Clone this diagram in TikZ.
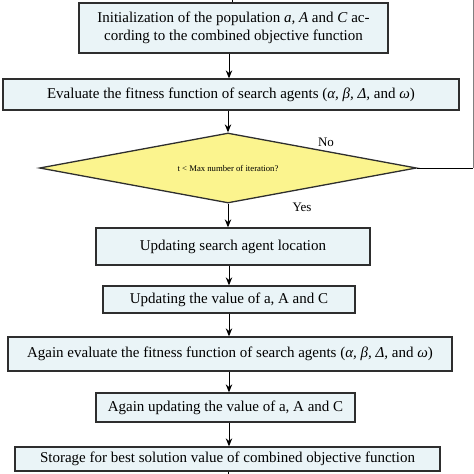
\documentclass[tikz,border=0pt]{standalone}
\usepackage{fontspec}
\setmainfont{Liberation Serif}
\usetikzlibrary{shapes.geometric,arrows.meta}
\definecolor{boxfill}{HTML}{EAF4F7}
\definecolor{decfill}{HTML}{FBF48E}
\definecolor{edge}{HTML}{2E2E2E}

\begin{document}
\begin{tikzpicture}[x=1pt,y=-1pt,
  stepbox/.style={draw=edge,line width=1.3pt,fill=boxfill,inner sep=0pt,align=center,font=\fontsize{15}{18}\selectfont},
  decbox/.style={draw=edge,line width=1.3pt,fill=decfill,diamond,aspect=5.4,inner sep=0pt,font=\fontsize{8.7}{10}\selectfont},
  arr/.style={-{Stealth[length=8pt,width=6.5pt]},line width=1pt,black},
  flow/.style={line width=1pt,black}]
\useasboundingbox (0,0) rectangle (474,474);
\coordinate (axis) at (229,0);
% boxes
\node[stepbox,minimum width=309pt,minimum height=50pt] (init) at (233.5,28) {Initialization of the population \textit{a, A} and \textit{C} ac-\\cording to the combined objective function};
\node[stepbox,minimum width=456pt,minimum height=31pt] (eval) at (231,94.5) {Evaluate the fitness function of search agents (\textit{α, β, Δ,} and \textit{ω})};
\node[decbox,minimum width=377pt,minimum height=70pt] (dec) at (228,168) {t < Max number of iteration?\hspace{30pt}};
\node[stepbox,minimum width=274pt,minimum height=37pt] (upd) at (233,246.5) {Updating search agent location};
\node[stepbox,minimum width=252pt,minimum height=27pt] (val) at (229,299.5) {Updating the value of a, A and C};
\node[stepbox,minimum width=444pt,minimum height=34pt] (again) at (230,354) {Again evaluate the fitness function of search agents (\textit{α, β, Δ,} and \textit{ω})};
\node[stepbox,minimum width=259pt,minimum height=29pt] (againval) at (225.5,407.5) {Again updating the value of a, A and C};
\node[stepbox,minimum width=425pt,minimum height=24pt] (store) at (227.5,459) {Storage for best solution value of combined objective function};
% connectors
\coordinate (top) at (232,0);
\coordinate (bot) at (228,474);
\coordinate (corner) at (473,168);
\coordinate (loop) at (473,0);
\draw[flow] (top) -- (init.north -| top);
\draw[arr] (init.south -| axis) -- (eval.north -| axis);
\draw[arr] (eval.south -| dec.north) -- (dec.north);
\draw[arr] (dec.south) -- (upd.north -| dec.south);
\draw[arr] (upd.south -| axis) -- (val.north -| axis);
\draw[arr] (val.south -| axis) -- (again.north -| axis);
\draw[arr] (again.south -| axis) -- (againval.north -| axis);
\draw[arr] (againval.south -| axis) -- (store.north -| axis);
\draw[flow] (store.south -| bot) -- (bot);
\draw[flow] (dec.east) -- (corner);
\draw[line width=0.8pt,gray] (corner) -- (loop);
% labels
\node[font=\fontsize{13}{15}\selectfont] (no) at (326,142) {No};
\node[font=\fontsize{13}{15}\selectfont] (yes) at (302,207) {Yes};
\end{tikzpicture}
\end{document}
